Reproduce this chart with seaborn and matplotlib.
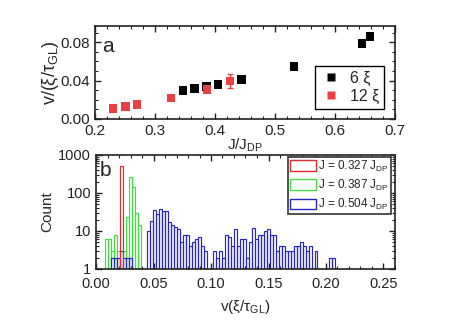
import numpy as np
import pandas as pd
import matplotlib
matplotlib.use("Agg")
import matplotlib.pyplot as plt
import seaborn as sns
from matplotlib.patches import Patch
from matplotlib.ticker import MultipleLocator, FixedLocator, LogLocator, NullFormatter

# ---- panel a data ----
j_6xi = [0.347, 0.366, 0.386, 0.405, 0.444, 0.532, 0.645, 0.658]
v_6xi = [0.030, 0.032, 0.034, 0.036, 0.041, 0.0545, 0.079, 0.086]
j_12xi = [0.230, 0.251, 0.270, 0.327, 0.387, 0.425]
v_12xi = [0.011, 0.013, 0.015, 0.022, 0.031, 0.0395]
err_12xi = [0, 0, 0, 0, 0, 0.007]
series_labels = ["6 ξ", "12 ξ"]

# ---- panel b data (histogram bin counts) ----
bin_start = 0.008
bin_width = 0.0026
counts_327 = [0, 0, 0, 0, 0, 500]
counts_387 = [6, 6, 3, 8, 3, 0, 3, 24, 270, 140, 30, 14]
counts_504 = [0, 0, 2, 2, 2, 3, 2, 2, 2, 0, 0, 0, 0, 0,
              10, 18, 35, 28, 37, 33, 33, 17, 14, 13, 11, 5, 8, 8, 4, 5, 6, 7, 4, 3,
              0, 0, 3, 2, 3, 2, 8, 7, 4, 11, 4, 6, 6, 2, 5, 12,
              6, 8, 8, 10, 11, 8, 8, 3, 4, 4, 3, 3, 3, 4, 4, 5, 4, 3, 4, 0, 3,
              0, 0, 0, 0, 2, 2]
hist_labels = [r"J = 0.327 J$_{\mathrm{DP}}$", r"J = 0.387 J$_{\mathrm{DP}}$", r"J = 0.504 J$_{\mathrm{DP}}$"]
hist_colors = ["#e82828", "#3ee03e", "#2626c8"]

sns.set_style("ticks")
plt.rcParams['font.family'] = ['Liberation Sans', 'DejaVu Sans']
plt.rcParams['mathtext.fontset'] = 'custom'
plt.rcParams['mathtext.rm'] = 'Liberation Sans'
plt.rcParams['mathtext.it'] = 'Liberation Sans:italic'
plt.rcParams['axes.edgecolor'] = '#222222'
plt.rcParams['xtick.color'] = '#222222'
plt.rcParams['ytick.color'] = '#222222'

fig = plt.figure(figsize=(4.74, 3.32), dpi=100)
ax1 = fig.add_axes([95/474, 1-119/332, 300/474, 93/332])
ax2 = fig.add_axes([96/474, 1-269/332, 299/474, 114/332])

# ---- panel a ----
df = pd.DataFrame({
    "J": j_6xi + j_12xi,
    "v": v_6xi + v_12xi,
    "series": [series_labels[0]]*len(j_6xi) + [series_labels[1]]*len(j_12xi),
})
ax1.errorbar(j_12xi, v_12xi, yerr=err_12xi, fmt='none', ecolor='#e8413f',
             elinewidth=1, capsize=2, zorder=2)
sns.scatterplot(data=df, x="J", y="v", hue="series",
                palette={series_labels[0]: "black", series_labels[1]: "#e8413f"},
                marker="s", s=38, edgecolor="none", ax=ax1, zorder=3)
ax1.set_xlim(0.2, 0.7)
ax1.set_ylim(0, 0.097)
ax1.xaxis.set_major_locator(MultipleLocator(0.1))
ax1.xaxis.set_minor_locator(MultipleLocator(0.02))
ax1.yaxis.set_major_locator(FixedLocator([0.0, 0.04, 0.08]))
ax1.yaxis.set_minor_locator(MultipleLocator(0.01))
ax1.set_yticklabels(["0.00", "0.04", "0.08"])
ax1.set_xlabel(r"J/J$_{\mathrm{DP}}$", fontsize=11)
ax1.xaxis.set_label_coords(0.5, -0.19)
ax1.set_ylabel(r"v/(ξ/τ$_{\mathrm{GL}}$)", fontsize=13, labelpad=0)
ax1.text(0.025, 0.78, "a", transform=ax1.transAxes, fontsize=15, va="center", ha="left")
leg1 = ax1.legend(loc="lower right", bbox_to_anchor=(0.963, 0.112), borderaxespad=0,
                  frameon=True, framealpha=1, fancybox=False, edgecolor="black",
                  fontsize=11.5, handlelength=1.5, handletextpad=0.4,
                  borderpad=0.3, labelspacing=0.2, markerscale=1.0)
leg1.get_frame().set_linewidth(1.0)

# ---- panel b ----
for counts, color in [(counts_387, hist_colors[1]),
                      (counts_504, hist_colors[2]),
                      (counts_327, hist_colors[0])]:
    edges = bin_start + bin_width*np.arange(len(counts)+1)
    hdf = pd.DataFrame({"v": (edges[:-1] + edges[1:]) / 2, "count": counts})
    sns.histplot(data=hdf, x="v", weights="count", bins=list(edges), element="bars",
                 fill=False, color=color, linewidth=0.85, ax=ax2)
ax2.set_yscale("log")
ax2.set_ylim(1, 1000)
ax2.set_xlim(0, 0.26)
ax2.xaxis.set_major_locator(FixedLocator([0, 0.05, 0.10, 0.15, 0.20, 0.25]))
ax2.set_xticklabels(["0.00", "0.05", "0.10", "0.15", "0.20", "0.25"])
ax2.xaxis.set_minor_locator(MultipleLocator(0.01))
ax2.yaxis.set_major_locator(FixedLocator([1, 10, 100, 1000]))
ax2.set_yticklabels(["1", "10", "100", "1000"])
ax2.yaxis.set_minor_locator(LogLocator(base=10, subs=np.arange(2, 10)))
ax2.yaxis.set_minor_formatter(NullFormatter())
ax2.set_xlabel(r"v(ξ/τ$_{\mathrm{GL}}$)", fontsize=11, labelpad=5)
ax2.set_ylabel("Count", fontsize=11, labelpad=3)
ax2.text(0.013, 0.86, "b", transform=ax2.transAxes, fontsize=15, va="center", ha="left")
handles = [Patch(facecolor="white", edgecolor=c, linewidth=1.0) for c in hist_colors]
leg2 = ax2.legend(handles, hist_labels, loc="upper right", bbox_to_anchor=(0.987, 0.985),
                  borderaxespad=0, frameon=True, framealpha=1, fancybox=False,
                  edgecolor="#333333", fontsize=8.5,
                  handlelength=2.2, handleheight=1.0, handletextpad=0.25,
                  borderpad=0.15, labelspacing=0.35)
leg2.get_frame().set_linewidth(1.2)

for ax in (ax1, ax2):
    ax.tick_params(which="both", direction="in", top=True, right=True, labelsize=11)
    ax.tick_params(which="major", length=4, width=1)
    ax.tick_params(which="minor", length=2, width=0.8)
    for s in ax.spines.values():
        s.set_linewidth(1.2)
ax2.tick_params(labelsize=10.5)
ax2.tick_params(axis="x", pad=6)

fig.savefig("out.png", dpi=100)
